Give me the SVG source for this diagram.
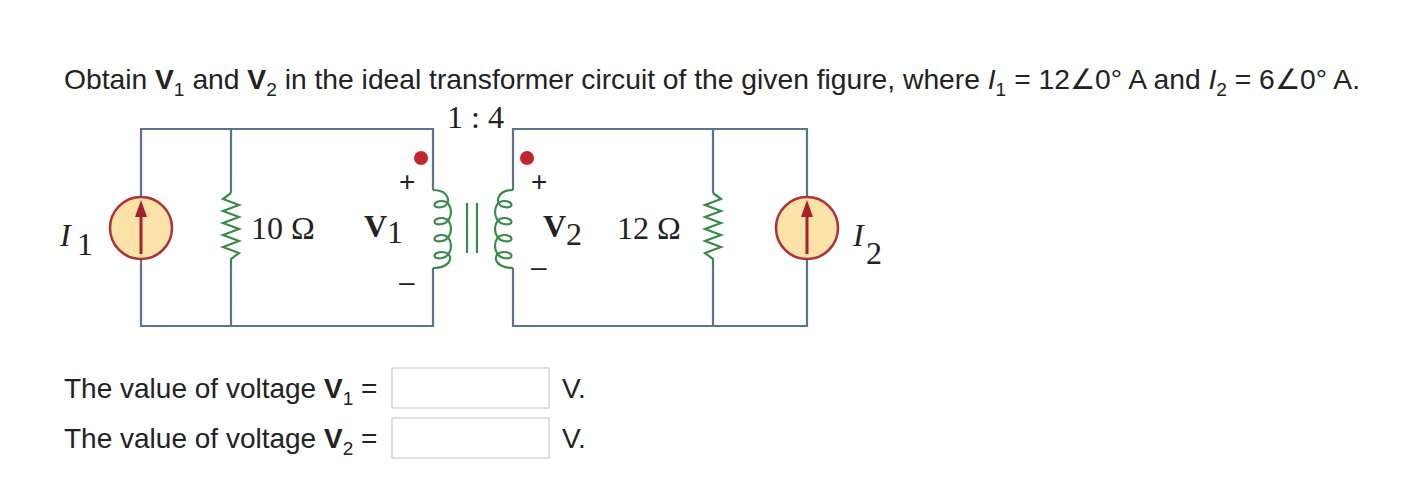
<svg xmlns="http://www.w3.org/2000/svg" width="1428" height="484" viewBox="0 0 1428 484">
<style>
.w{fill:none;stroke:#5a7591;stroke-width:2.2}
.g{fill:none;stroke:#3a8a4a;stroke-width:2.2}
.src{fill:#fbe3a8;stroke:#b0303a;stroke-width:2.5}
.arr{stroke:#a52030;stroke-width:3}
.ah{fill:#a52030}
.dot{fill:#c0282f}
.t{font-family:"Liberation Sans",Arial,sans-serif;font-size:28px;fill:#222}
.s{font-family:"Liberation Serif","Times New Roman",serif;font-size:32px;fill:#222}
.box{fill:#fff;stroke:#ccc;stroke-width:1.2}
</style>
<text class="t" x="64" y="89" textLength="1296" lengthAdjust="spacingAndGlyphs">Obtain <tspan font-weight="bold">V</tspan><tspan font-size="19" dy="7">1</tspan><tspan dy="-7"> and </tspan><tspan font-weight="bold">V</tspan><tspan font-size="19" dy="7">2</tspan><tspan dy="-7"> in the ideal transformer circuit of the given figure, where </tspan><tspan font-style="italic">I</tspan><tspan font-size="19" dy="7">1</tspan><tspan dy="-7"> = 12∠0° A and </tspan><tspan font-style="italic">I</tspan><tspan font-size="19" dy="7">2</tspan><tspan dy="-7"> = 6∠0° A.</tspan></text>
<g id="connectors">
<path class="w" d="M433,190 V129 H141 V326 H433 V268"/>
<path class="w" d="M231,129 V193 M231,264 V326"/>
<path class="w" d="M513,190 V129 H807 V326 H513 V268"/>
<path class="w" d="M713,129 V193 M713,264 V326"/>
</g>
<g id="I1">
<circle class="src" cx="141" cy="228" r="31"/>
<line class="arr" x1="141" y1="254" x2="141" y2="215"/>
<path class="ah" d="M141,200 L135,217 L147,217 Z"/>
<text class="s" x="60" y="246" font-style="italic">I</text><text class="s" x="77" y="255" font-size="21">1</text>
</g>
<g id="R1">
<path class="g" d="M231,193 l-8,6 l16,6 l-16,6 l16,6 l-16,6 l16,6 l-16,6 l16,6 l-16,6 l16,6 l-8,6 v6"/>
<text class="s" x="251" y="239">10 Ω</text>
</g>
<g id="T">
<path class="g" d="M433,190 C450,190 452,205 442,207 C432,209 432,201 442,201 C454,201 454,222 442,224 C432,226 432,218 442,218 C454,218 454,239 442,241 C432,243 432,235 442,235 C454,235 454,256 442,258 C432,260 432,252 442,252 C454,252 454,268 433,268"/>
<path class="g" d="M513,190 C496,190 494,205 504,207 C514,209 514,201 504,201 C492,201 492,222 504,224 C514,226 514,218 504,218 C492,218 492,239 504,241 C514,243 514,235 504,235 C492,235 492,256 504,258 C514,260 514,252 504,252 C492,252 492,268 513,268"/>
<path class="g" d="M467,203 V253 M477,203 V253"/>
<circle class="dot" cx="421" cy="158" r="7"/>
<circle class="dot" cx="527" cy="158" r="7"/>
<text class="s" x="447" y="128">1 : 4</text>
<text class="t" x="399" y="191">+</text>
<text class="t" x="531" y="191">+</text>
<text class="t" x="399" y="291">–</text>
<text class="t" x="531" y="276">–</text>
<text class="s" x="364" y="237" font-weight="bold">V</text><text class="s" x="387" y="243" font-size="21">1</text>
<text class="s" x="543" y="237" font-weight="bold">V</text><text class="s" x="566" y="245" font-size="21">2</text>
</g>
<g id="R2">
<path class="g" d="M713,193 l8,6 l-16,6 l16,6 l-16,6 l16,6 l-16,6 l16,6 l-16,6 l16,6 l-16,6 l8,6 v6"/>
<text class="s" x="617" y="239">12 Ω</text>
</g>
<g id="I2">
<circle class="src" cx="807" cy="228" r="31"/>
<line class="arr" x1="807" y1="254" x2="807" y2="215"/>
<path class="ah" d="M807,200 L801,217 L813,217 Z"/>
<text class="s" x="853" y="246" font-style="italic">I</text><text class="s" x="866" y="264" font-size="21">2</text>
</g>
<text class="t" x="64" y="398">The value of voltage <tspan font-weight="bold">V</tspan><tspan font-size="19" dy="7">1</tspan><tspan dy="-7"> =</tspan></text>
<rect class="box" x="392" y="368" width="157" height="40"/>
<text class="t" x="562" y="398">V.</text>
<text class="t" x="64" y="448">The value of voltage <tspan font-weight="bold">V</tspan><tspan font-size="19" dy="7">2</tspan><tspan dy="-7"> =</tspan></text>
<rect class="box" x="392" y="418" width="157" height="40"/>
<text class="t" x="562" y="448">V.</text>
</svg>
